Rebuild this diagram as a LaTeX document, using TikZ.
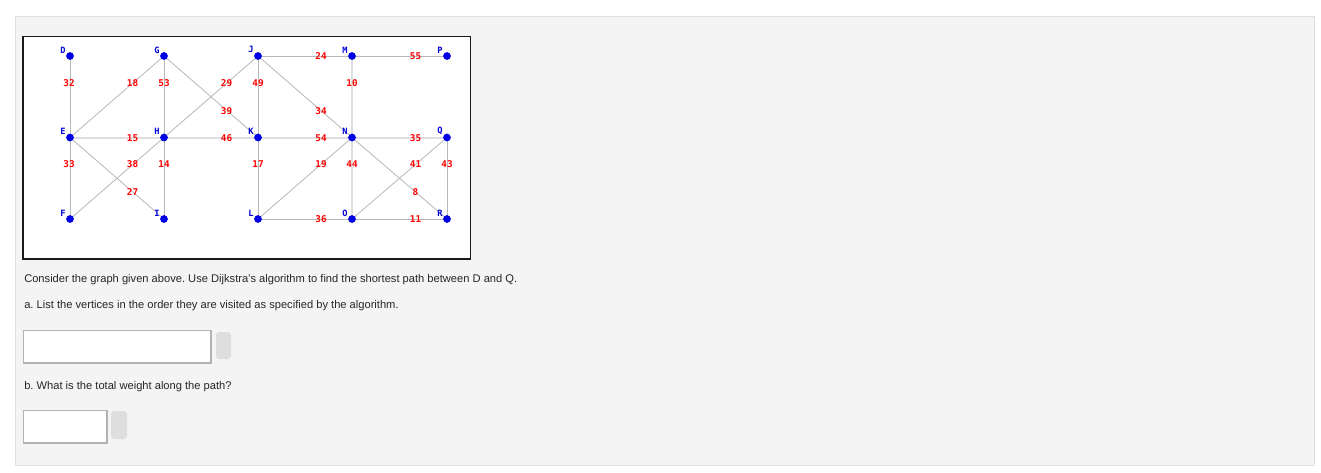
\documentclass[tikz,border=0pt]{standalone}
\usepackage{fontspec}
\setmainfont{Liberation Sans}
\newfontfamily\monob{DejaVu Sans Mono}
\frenchspacing
\begin{document}
\begin{tikzpicture}[x=0.75pt,y=-0.75pt,
  vtx/.style={circle,fill=blue!90!black,inner sep=0pt,minimum size=5.8pt},
  vlab/.style={text=blue!85!black,font=\monob\bfseries\fontsize{6.5}{7}\selectfont,inner sep=0pt},
  wlab/.style={text=red,font=\monob\bfseries\fontsize{7}{8}\selectfont,inner sep=0pt},
  thinedge/.style={draw=black!28,line width=0.6pt},
  thickedge/.style={draw=black!13,line width=1.5pt},
  txt/.style={font=\fontsize{8.35}{10}\selectfont,anchor=west,inner sep=0pt,text=black!85},
  inbox/.style={draw=black!30,fill=white,line width=0.8pt},
  btn/.style={fill=black!13,rounded corners=2.5pt}]
\useasboundingbox (0,0) rectangle (1321,472);
\fill[white] (0,0) rectangle (1321,472);
\draw[fill=black!4.5,draw=black!12] (15,16) rectangle (1314,465);
\draw[fill=white,draw=black!90,line width=1.1pt] (23,36.5) rectangle (470.5,259);
% vertices
\foreach \n/\x/\y in {D/70/56,G/164/56,J/258/56,M/352/56,P/447/56,
  E/70/137.5,H/164/137.5,K/258/137.5,N/352/137.5,Q/447/137.5,
  F/70/219,I/164/219,L/258/219,O/352/219,R/447/219}
  \coordinate (\n) at (\x,\y);
% edges
\foreach \a/\b in {D/E,E/G,G/H,G/K,H/J,J/K,J/M,M/P,J/N,E/F,E/I,H/F,H/I,K/L,N/L,Q/O,N/R,Q/R,L/O,O/R}
  \draw[thinedge] (\a) -- (\b);
\foreach \a/\b in {E/H,H/K,K/N,N/Q,M/N,N/O}
  \draw[thickedge] (\a) -- (\b);
\foreach \n in {D,G,J,M,P,E,H,K,N,Q,F,I,L,O,R}{
  \node[vtx] (v\n) at (\n) {};
  \node[vlab] (l\n) at ([xshift=-5.3,yshift=4.6]\n) {\n};
}
% weights
\foreach \w/\x/\y in {32/69/83,18/132.5/83,53/164/83,29/226.5/83,49/258/83,10/352/83,
  39/226.5/111,34/321/111,
  15/132.5/138,46/226.5/138,54/321/138,35/415.5/138,
  24/321/56,55/415.5/56,
  33/69/164.5,38/132.5/164.5,14/164/164.5,17/258/164.5,19/321/164.5,44/352/164.5,41/415.5/164.5,43/447/164.5,
  27/132.5/192,8/415.5/192,
  36/321/219.5,11/415.5/219.5}
  \node[wlab] (w\w) at (\x,\y) {\w};
% text
\node[txt] (t1) at (24,279.5) {Consider the graph given above. Use Dijkstra's algorithm to find the shortest path between D and Q.};
\node[txt] (t2) at (24,306) {a. List the vertices in the order they are visited as specified by the algorithm.};
\draw[inbox] (23.5,330.5) rectangle (211,363);
\fill[btn] (216,332) rectangle (231,359);
\node[txt] (t3) at (24,386.5) {b. What is the total weight along the path?};
\draw[inbox] (23.5,410.5) rectangle (107,443);
\fill[btn] (111,411) rectangle (127,439);
\end{tikzpicture}
\end{document}
